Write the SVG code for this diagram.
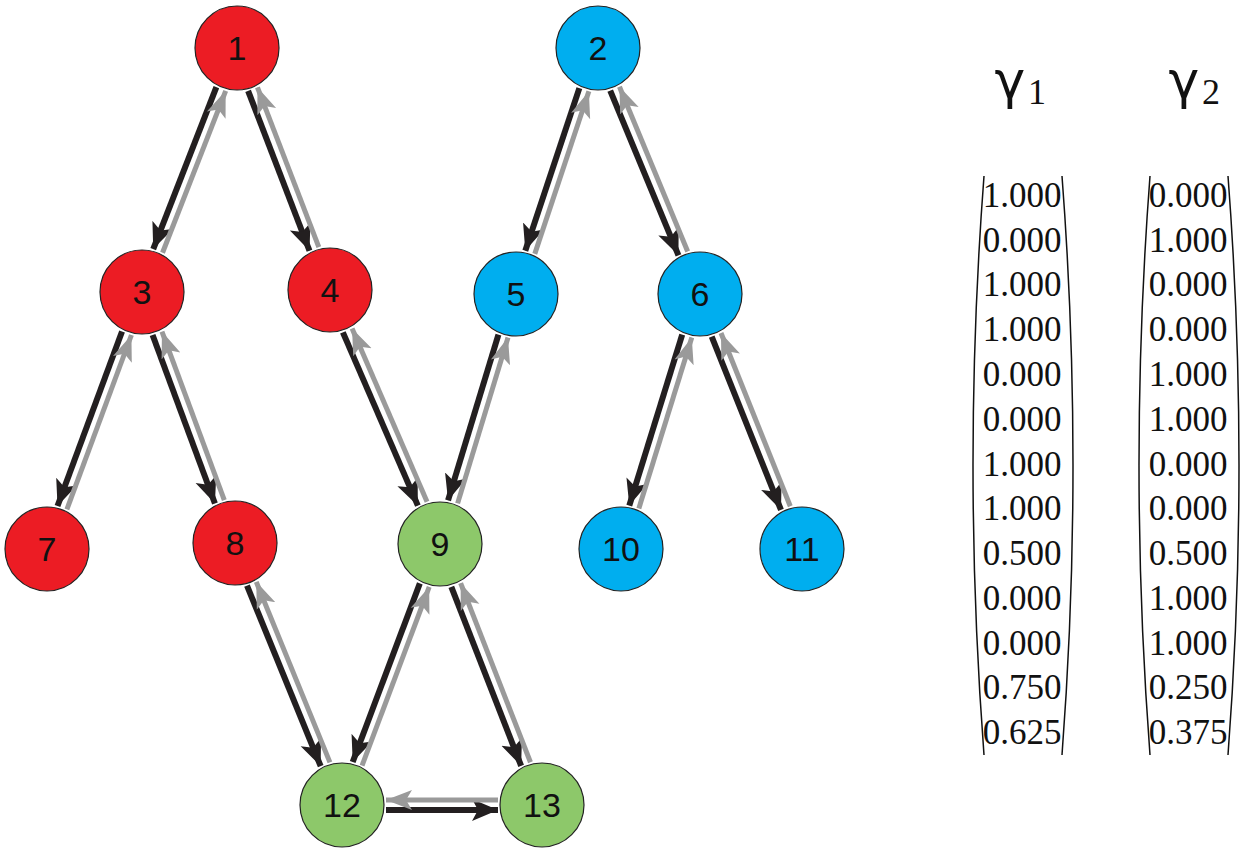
<svg xmlns="http://www.w3.org/2000/svg" width="1254" height="852" viewBox="0 0 1254 852">
<style>
.n circle{stroke:#222;stroke-width:1.2}
.r{fill:#ec1c24}.b{fill:#00aeef}.g{fill:#8dc86a}
.n text{font-family:"Liberation Sans",Arial,sans-serif;font-size:34px;text-anchor:middle;fill:#111}
.k{stroke:#231f20;stroke-width:6;fill:none;marker-end:url(#ak)}
.y{stroke:#9a9a9a;stroke-width:5;fill:none;marker-end:url(#ay)}
.m{font-family:"Liberation Serif","Times New Roman",serif;font-size:35px;text-anchor:middle;fill:#111}
.p{fill:none;stroke:#111;stroke-width:1.5}
</style>
<defs>
<marker id="ak" markerUnits="userSpaceOnUse" markerWidth="30" markerHeight="24" refX="26" refY="12" orient="auto"><path d="M0,1 L26,12 L0,23 L6,12Z" fill="#231f20"/></marker>
<marker id="ay" markerUnits="userSpaceOnUse" markerWidth="30" markerHeight="24" refX="26" refY="12" orient="auto"><path d="M0,2 L26,12 L0,22 L6,12Z" fill="#9a9a9a"/></marker>
</defs>
<g id="connectors">
<g transform="translate(237,48) rotate(111.3)"><line class="k" x1="44" y1="5" x2="217.8" y2="5"/><line class="y" x1="217.8" y1="-5" x2="44" y2="-5"/></g>
<g transform="translate(237,48) rotate(69.0)"><line class="k" x1="44" y1="5" x2="215.3" y2="5"/><line class="y" x1="215.3" y1="-5" x2="44" y2="-5"/></g>
<g transform="translate(598,48) rotate(108.4)"><line class="k" x1="44" y1="5" x2="215.3" y2="5"/><line class="y" x1="215.3" y1="-5" x2="44" y2="-5"/></g>
<g transform="translate(598,48) rotate(67.5)"><line class="k" x1="44" y1="5" x2="222.3" y2="5"/><line class="y" x1="222.3" y1="-5" x2="44" y2="-5"/></g>
<g transform="translate(142,292) rotate(110.3)"><line class="k" x1="44" y1="5" x2="230" y2="5"/><line class="y" x1="230" y1="-5" x2="44" y2="-5"/></g>
<g transform="translate(142,292) rotate(69.7)"><line class="k" x1="44" y1="5" x2="223.7" y2="5"/><line class="y" x1="223.7" y1="-5" x2="44" y2="-5"/></g>
<g transform="translate(330,290) rotate(66.6)"><line class="k" x1="44" y1="5" x2="232.8" y2="5"/><line class="y" x1="232.8" y1="-5" x2="44" y2="-5"/></g>
<g transform="translate(516,294) rotate(106.9)"><line class="k" x1="44" y1="5" x2="217.3" y2="5"/><line class="y" x1="217.3" y1="-5" x2="44" y2="-5"/></g>
<g transform="translate(700,294) rotate(107.2)"><line class="k" x1="44" y1="5" x2="223" y2="5"/><line class="y" x1="223" y1="-5" x2="44" y2="-5"/></g>
<g transform="translate(700,294) rotate(68.2)"><line class="k" x1="44" y1="5" x2="230.6" y2="5"/><line class="y" x1="230.6" y1="-5" x2="44" y2="-5"/></g>
<g transform="translate(235,543) rotate(67.8)"><line class="k" x1="44" y1="5" x2="239" y2="5"/><line class="y" x1="239" y1="-5" x2="44" y2="-5"/></g>
<g transform="translate(440,544) rotate(110.6)"><line class="k" x1="44" y1="5" x2="234.8" y2="5"/><line class="y" x1="234.8" y1="-5" x2="44" y2="-5"/></g>
<g transform="translate(440,544) rotate(68.7)"><line class="k" x1="44" y1="5" x2="236.2" y2="5"/><line class="y" x1="236.2" y1="-5" x2="44" y2="-5"/></g>
<g transform="translate(342,805)"><line class="k" x1="44" y1="5" x2="156" y2="5"/><line class="y" x1="156" y1="-5" x2="44" y2="-5"/></g>
</g>
<g id="n1" class="n"><circle class="r" cx="237" cy="48" r="42"/><text x="237" y="60">1</text></g>
<g id="n2" class="n"><circle class="b" cx="598" cy="48" r="42"/><text x="598" y="60">2</text></g>
<g id="n3" class="n"><circle class="r" cx="142" cy="292" r="42"/><text x="142" y="304">3</text></g>
<g id="n4" class="n"><circle class="r" cx="330" cy="290" r="42"/><text x="330" y="302">4</text></g>
<g id="n5" class="n"><circle class="b" cx="516" cy="294" r="42"/><text x="516" y="306">5</text></g>
<g id="n6" class="n"><circle class="b" cx="700" cy="294" r="42"/><text x="700" y="306">6</text></g>
<g id="n7" class="n"><circle class="r" cx="47" cy="549" r="42"/><text x="47" y="561">7</text></g>
<g id="n8" class="n"><circle class="r" cx="235" cy="543" r="42"/><text x="235" y="555">8</text></g>
<g id="n9" class="n"><circle class="g" cx="440" cy="544" r="42"/><text x="440" y="556">9</text></g>
<g id="n10" class="n"><circle class="b" cx="621" cy="549" r="42"/><text x="621" y="561">10</text></g>
<g id="n11" class="n"><circle class="b" cx="802" cy="549" r="42"/><text x="802" y="561">11</text></g>
<g id="n12" class="n"><circle class="g" cx="342" cy="805" r="42"/><text x="342" y="817">12</text></g>
<g id="n13" class="n"><circle class="g" cx="542" cy="805" r="42"/><text x="542" y="817">13</text></g>
<g id="matrix">
<text class="m" x="1010" y="98" style="font-size:52px;font-family:'DejaVu Sans',sans-serif">γ</text><text class="m" x="1037" y="104" style="font-size:36px">1</text>
<text class="m" x="1184" y="98" style="font-size:52px;font-family:'DejaVu Sans',sans-serif">γ</text><text class="m" x="1211" y="104" style="font-size:36px">2</text>
<path class="p" d="M984,176 Q962,465 984,755"/><path class="p" d="M1062,176 Q1084,465 1062,755"/>
<path class="p" d="M1150,176 Q1128,465 1150,755"/><path class="p" d="M1228,176 Q1250,465 1228,755"/>
<g class="m">
<text x="1022" y="207">1.000</text><text x="1022" y="252">0.000</text><text x="1022" y="296">1.000</text><text x="1022" y="341">1.000</text><text x="1022" y="386">0.000</text><text x="1022" y="431">0.000</text><text x="1022" y="476">1.000</text><text x="1022" y="520">1.000</text><text x="1022" y="565">0.500</text><text x="1022" y="610">0.000</text><text x="1022" y="655">0.000</text><text x="1022" y="699">0.750</text><text x="1022" y="744">0.625</text>
<text x="1188" y="207">0.000</text><text x="1188" y="252">1.000</text><text x="1188" y="296">0.000</text><text x="1188" y="341">0.000</text><text x="1188" y="386">1.000</text><text x="1188" y="431">1.000</text><text x="1188" y="476">0.000</text><text x="1188" y="520">0.000</text><text x="1188" y="565">0.500</text><text x="1188" y="610">1.000</text><text x="1188" y="655">1.000</text><text x="1188" y="699">0.250</text><text x="1188" y="744">0.375</text>
</g>
</g>
</svg>
